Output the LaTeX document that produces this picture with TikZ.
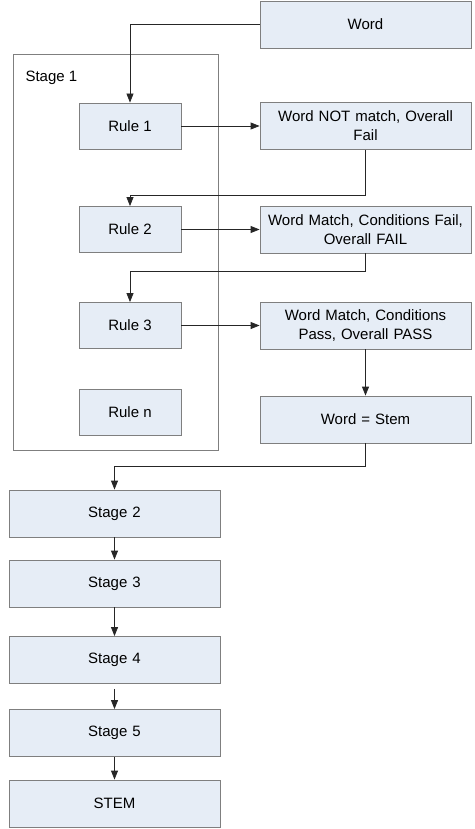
\documentclass[tikz,border=0pt]{standalone}
\usepackage{fontspec}
\setmainfont{Liberation Sans}
\usepackage{tikz}
\usetikzlibrary{arrows.meta,positioning,calc}

\definecolor{boxfill}{HTML}{E6EDF6}
\definecolor{boxline}{HTML}{7F7F7F}

\begin{document}
\begin{tikzpicture}[x=1pt,y=-1pt,
    every node/.style={font=\fontsize{15}{19}\selectfont},
    rulebox/.style={draw=boxline,fill=boxfill,line width=0.8pt,minimum width=102pt,minimum height=46pt,inner sep=2pt},
    wide/.style={draw=boxline,fill=boxfill,line width=0.8pt,minimum width=211pt,minimum height=47pt,inner sep=2pt,align=center,text width=207pt},
    arr/.style={-{Triangle[length=9pt,width=7pt]},line width=0.8pt,black!85}]
    \useasboundingbox (0,0) rectangle (474,829);
    % stage 1 frame
    \draw[boxline,line width=0.8pt] (13,54) rectangle (218,450);
    \node[anchor=west] (s1) at (22,78) {Stage 1};
    % rules
    \node[rulebox] (r1) at (130,126) {Rule 1};
    \node[rulebox] (r2) at (130,229.5) {Rule 2};
    \node[rulebox] (r3) at (130,325.5) {Rule 3};
    \node[rulebox] (rn) at (130,412) {Rule n};
    % right column
    \node[wide] (word) at (365.5,24.5) {Word};
    \node[wide] (f1) at (365.5,126) {Word NOT match, Overall\\Fail};
    \node[wide] (f2) at (365.5,229.5) {Word Match, Conditions Fail,\\Overall FAIL};
    \node[wide] (p3) at (365.5,325.5) {Word Match, Conditions\\Pass, Overall PASS};
    \node[wide] (stem) at (365.5,419.5) {Word = Stem};
    % remaining stages
    \node[wide] (st2) at (114.5,513.5) {Stage 2};
    \node[wide] (st3) at (114.5,583.5) {Stage 3};
    \node[wide] (st4) at (114.5,660) {Stage 4};
    \node[wide] (st5) at (114.5,733) {Stage 5};
    \node[wide] (out) at (114.5,803.5) {STEM};
    % connectors
    \draw[arr] (word.west) -| (r1.north);
    \draw[arr] (r1) -- (f1);
    \draw[arr] (f1.south) -- ($(f1.south)+(0,45)$) -| (r2.north);
    \draw[arr] (r2) -- (f2);
    \draw[arr] (f2.south) -- ($(f2.south)+(0,18)$) -| (r3.north);
    \draw[arr] (r3) -- (p3);
    \draw[arr] (p3) -- (stem);
    \draw[arr] (stem.south) -- ($(stem.south)+(0,23)$) -| (st2.north);
    \draw[arr] (st2) -- (st3);
    \draw[arr] (st3) -- (st4);
    \draw[arr,shorten <=5pt] (st4) -- (st5);
    \draw[arr] (st5) -- (out);
\end{tikzpicture}
\end{document}
